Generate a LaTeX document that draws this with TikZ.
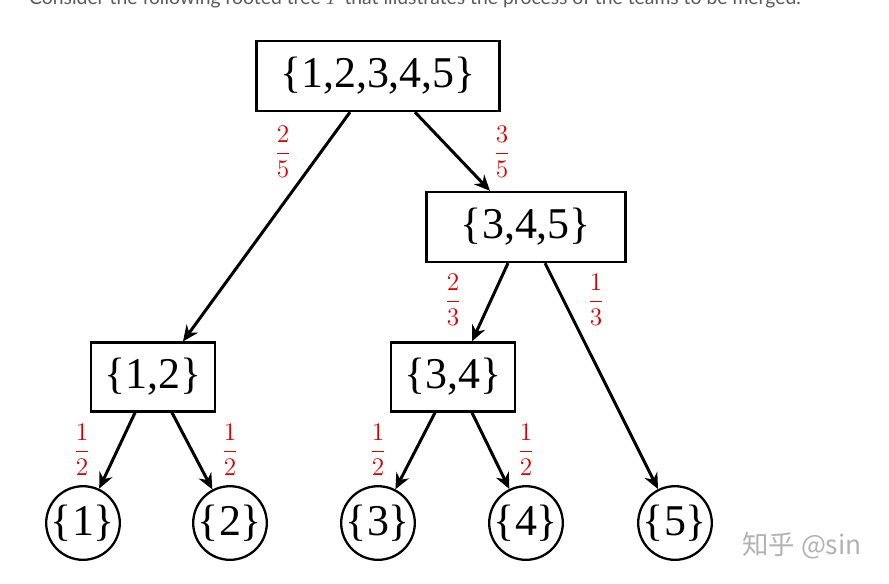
\documentclass[tikz,border=0pt]{standalone}
\usepackage{fontspec}
\setmainfont{Liberation Serif}
\newfontfamily\cjk{Noto Sans CJK SC}
\newfontfamily\latofont{Lato}
\usetikzlibrary{arrows.meta}
\begin{document}
\begin{tikzpicture}[x=0.02cm,y=-0.02cm]
        \tikzstyle{set} = [rectangle, draw, line width=1.3pt, inner sep=0pt, font=\fontsize{25}{30}\selectfont]
        \tikzstyle{leaf} = [circle, draw, line width=1.3pt, minimum size=1.44cm, inner sep=0pt, font=\fontsize{25}{30}\selectfont]
        \tikzstyle{edge} = [-{Stealth[length=9pt,width=8pt]}, line width=1.7pt]
        \tikzstyle{prob} = [text=red!85!black, font=\fontsize{15}{18}\selectfont]
        \useasboundingbox (0,0) rectangle (889,583);

        \node (intro) [text=gray!70!black, font=\latofont\fontsize{11}{13}\selectfont] at (415,-1) {Consider the following rooted tree $T$ that illustrates the process of the teams to be merged.};

        \node (all) [set, minimum width=4.86cm, minimum height=1.4cm] at (378,76) {\{1,2,3,4,5\}};
        \node (s345) [set, minimum width=3.98cm, minimum height=1.4cm] at (526,227) {\{3,4,5\}};
        \node (s12) [set, minimum width=2.48cm, minimum height=1.38cm] at (153,377) {\{1,2\}};
        \node (s34) [set, minimum width=2.48cm, minimum height=1.38cm] at (453,377) {\{3,4\}};
        \node (l1) [leaf] at (83,523) {\{1\}};
        \node (l2) [leaf] at (230,523) {\{2\}};
        \node (l3) [leaf] at (378,523) {\{3\}};
        \node (l4) [leaf] at (526,523) {\{4\}};
        \node (l5) [leaf] at (675,523) {\{5\}};

        \draw[edge] ([xshift=-0.56cm]all.south) -- ([xshift=0.6cm]s12.north);
        \draw[edge] ([xshift=0.74cm]all.south) -- ([xshift=-0.72cm]s345.north);
        \draw[edge] ([xshift=-0.36cm]s345.south) -- ([xshift=0.38cm]s34.north);
        \draw[edge] ([xshift=0.38cm]s345.south) -- (l5);
        \draw[edge] ([xshift=-0.36cm]s12.south) -- (l1);
        \draw[edge] ([xshift=0.38cm]s12.south) -- (l2);
        \draw[edge] ([xshift=-0.36cm]s34.south) -- (l3);
        \draw[edge] ([xshift=0.38cm]s34.south) -- (l4);

        \node (p1) [prob] at (283,152) {$\displaystyle\frac{2}{5}$};
        \node (p2) [prob] at (502,152) {$\displaystyle\frac{3}{5}$};
        \node (p3) [prob] at (453,300) {$\displaystyle\frac{2}{3}$};
        \node (p4) [prob] at (596,300) {$\displaystyle\frac{1}{3}$};
        \node (p5) [prob] at (82,450) {$\displaystyle\frac{1}{2}$};
        \node (p6) [prob] at (230,450) {$\displaystyle\frac{1}{2}$};
        \node (p7) [prob] at (378,450) {$\displaystyle\frac{1}{2}$};
        \node (p8) [prob] at (526,450) {$\displaystyle\frac{1}{2}$};

        \node (mark) [text=gray!60, font=\cjk\fontsize{15}{18}\selectfont] at (802,546) {知乎 @sin};
    \end{tikzpicture}
\end{document}
